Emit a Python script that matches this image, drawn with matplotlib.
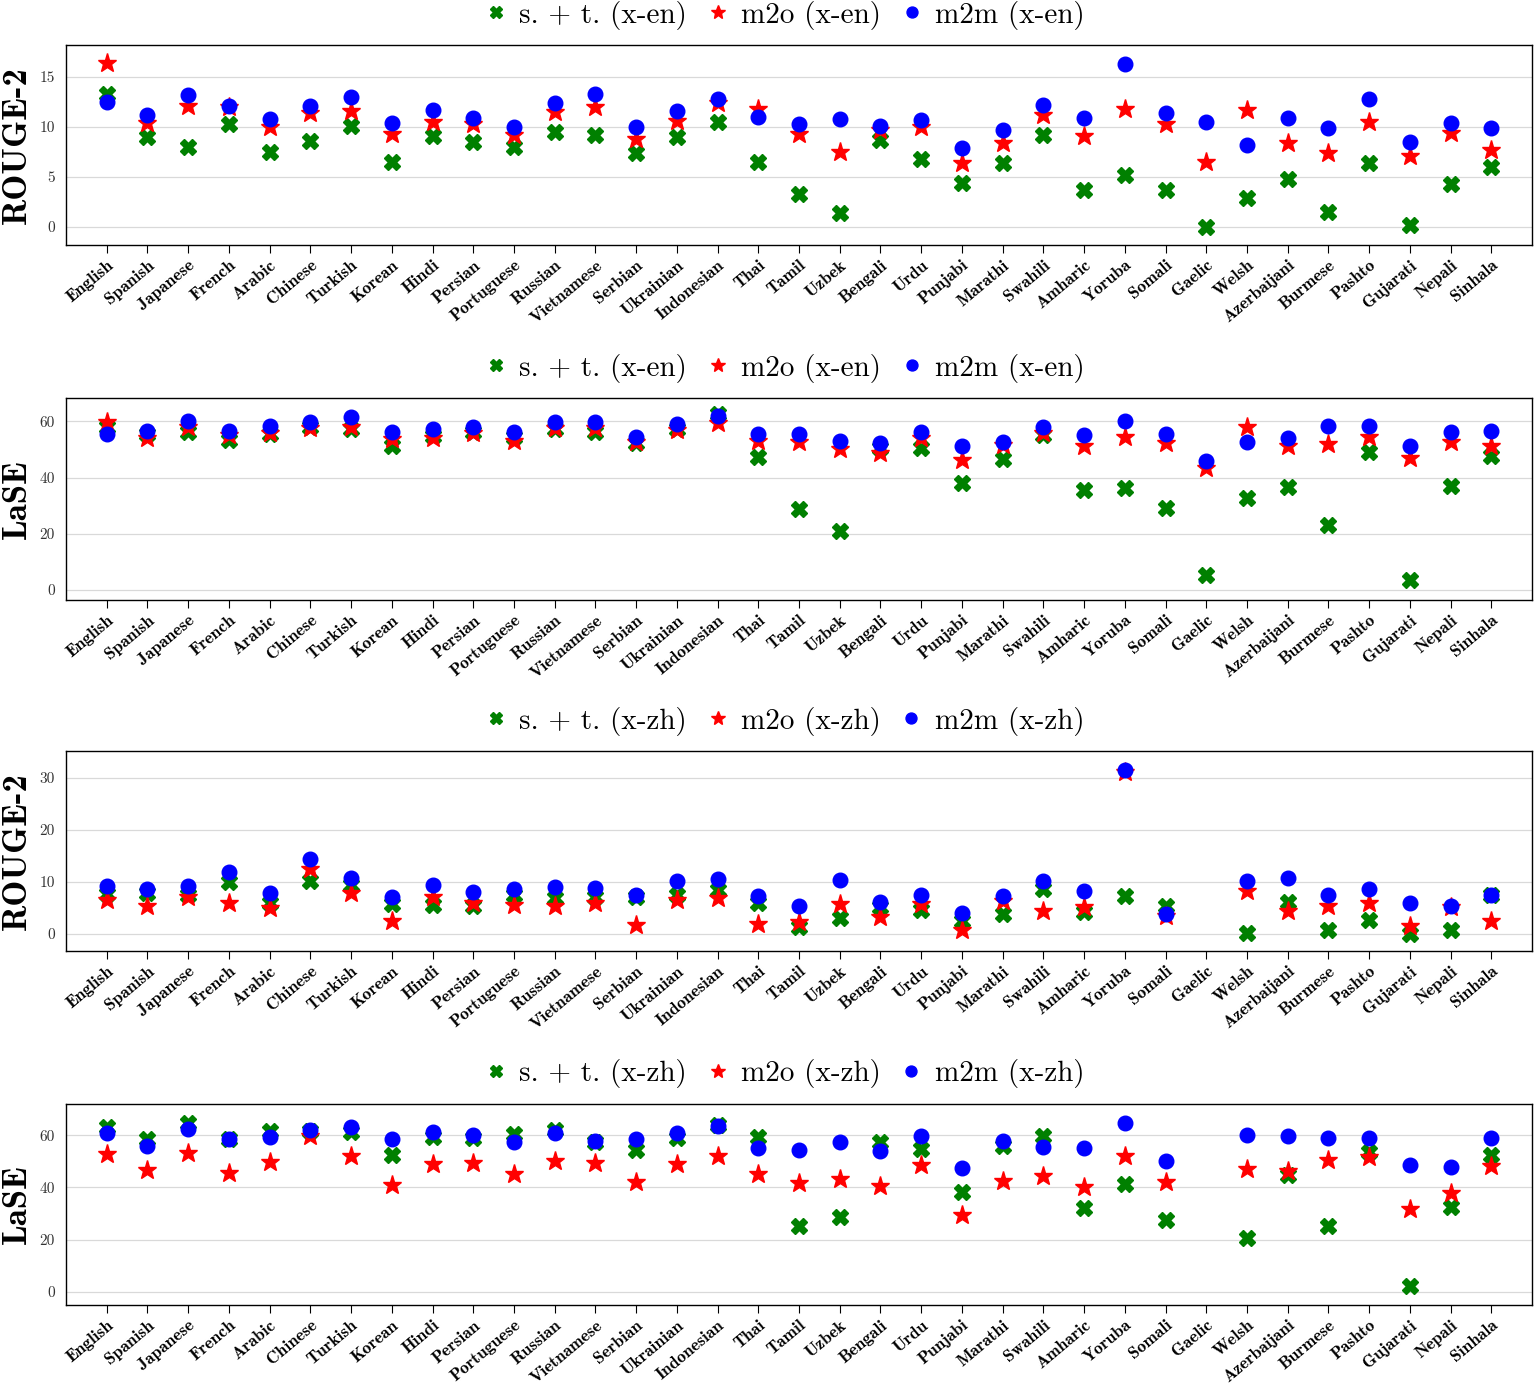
import numpy as np
import matplotlib
matplotlib.use("Agg")
import matplotlib.pyplot as plt

langs = ["English", "Spanish", "Japanese", "French", "Arabic", "Chinese", "Turkish",
         "Korean", "Hindi", "Persian", "Portuguese", "Russian", "Vietnamese", "Serbian",
         "Ukrainian", "Indonesian", "Thai", "Tamil", "Uzbek", "Bengali", "Urdu", "Punjabi",
         "Marathi", "Swahili", "Amharic", "Yoruba", "Somali", "Gaelic", "Welsh",
         "Azerbaijani", "Burmese", "Pashto", "Gujarati", "Nepali", "Sinhala"]

nan = np.nan

# ROUGE-2, x-en
r_en_st  = [13.3, 9.0, 8.0, 10.3, 7.5, 8.6, 10.1, 6.5, 9.1, 8.5, 8.0, 9.5, 9.2, 7.4, 9.0, 10.5, 6.5,
            3.3, 1.4, 8.7, 6.8, 4.4, 6.4, 9.2, 3.7, 5.2, 3.7, 0.0, 2.9, 4.8, 1.5, 6.4, 0.2, 4.3, 6.0]
r_en_m2o = [16.4, 10.4, 12.1, 12.0, 10.0, 11.4, 11.6, 9.3, 10.5, 10.3, 9.2, 11.5, 12.0, 8.8, 10.6, 12.4, 11.8,
            9.3, 7.5, 9.7, 10.0, 6.4, 8.4, 11.2, 9.1, 11.8, 10.3, 6.5, 11.7, 8.4, 7.4, 10.5, 7.1, 9.4, 7.7]
r_en_m2m = [12.5, 11.2, 13.2, 12.1, 10.8, 12.1, 13.0, 10.4, 11.7, 10.9, 10.0, 12.4, 13.3, 10.0, 11.6, 12.8, 11.0,
            10.3, 10.8, 10.1, 10.7, 7.9, 9.7, 12.2, 10.9, 16.3, 11.4, 10.5, 8.2, 10.9, 9.9, 12.8, 8.5, 10.4, 9.9]

# LaSE, x-en
l_en_st  = [58.1, 55.5, 56.3, 53.4, 55.4, 58.1, 57.2, 51.3, 54.8, 56.1, 54.5, 57.2, 56.3, 52.4, 57.2, 62.5, 47.4,
            28.8, 21.0, 50.4, 50.4, 37.9, 46.5, 55.1, 35.6, 36.4, 29.1, 5.3, 32.8, 36.5, 23.1, 49.2, 3.6, 36.8, 47.7]
l_en_m2o = [59.9, 54.0, 57.9, 55.1, 55.7, 57.5, 57.9, 53.6, 54.0, 55.7, 53.1, 57.5, 57.7, 52.8, 56.9, 59.5, 53.0,
            52.8, 50.0, 48.6, 54.0, 46.2, 51.6, 56.0, 51.2, 54.5, 52.4, 43.3, 57.9, 51.2, 51.8, 54.5, 47.1, 52.8, 51.2]
l_en_m2m = [55.5, 56.7, 60.2, 56.7, 58.3, 59.9, 61.4, 56.3, 57.3, 57.9, 56.3, 59.6, 59.6, 54.5, 58.9, 61.9, 55.5,
            55.4, 53.0, 52.4, 56.1, 51.2, 52.8, 58.1, 55.1, 60.2, 55.5, 46.0, 52.8, 54.2, 58.3, 58.3, 51.3, 56.3, 56.6]

# ROUGE-2, x-zh
r_zh_st  = [7.6, 7.9, 7.5, 9.9, 5.9, 10.1, 9.4, 5.8, 5.6, 5.3, 7.5, 6.8, 7.0, 7.1, 7.5, 8.5, 5.9,
            1.4, 3.1, 5.1, 4.6, 2.4, 3.8, 8.6, 4.2, 7.3, 5.4, nan, 0.1, 6.2, 0.8, 2.6, 0.0, 0.8, 7.5]
r_zh_m2o = [6.4, 5.3, 7.1, 5.9, 4.9, 12.4, 7.8, 2.5, 7.1, 6.0, 5.6, 5.3, 6.0, 1.7, 6.5, 6.9, 1.9,
            2.2, 5.7, 3.3, 5.8, 0.8, 6.3, 4.3, 5.1, 31.1, 3.5, nan, 8.3, 4.4, 5.3, 5.9, 1.5, 5.1, 2.5]
r_zh_m2m = [9.1, 8.6, 9.1, 11.9, 7.8, 14.4, 10.8, 7.1, 9.4, 8.1, 8.6, 8.9, 8.8, 7.5, 10.1, 10.5, 7.3,
            5.3, 10.3, 6.1, 7.5, 4.0, 7.3, 10.1, 8.3, 31.5, 3.8, nan, 10.2, 10.8, 7.5, 8.6, 6.0, 5.4, 7.5]

# LaSE, x-zh
l_zh_st  = [63.3, 58.6, 64.9, 58.5, 61.8, 61.8, 61.4, 52.5, 59.2, 58.8, 60.4, 62.0, 57.3, 54.4, 58.8, 64.0, 59.2,
            25.3, 28.8, 57.6, 54.6, 38.1, 56.0, 59.9, 32.2, 41.2, 27.5, nan, 20.5, 44.8, 25.3, 53.7, 2.2, 32.4, 52.5]
l_zh_m2o = [52.8, 46.7, 53.1, 45.7, 49.6, 59.7, 52.1, 40.9, 49.0, 49.5, 45.2, 50.3, 49.3, 42.2, 49.0, 52.1, 45.2,
            41.6, 43.1, 40.7, 48.6, 29.4, 42.5, 44.4, 40.3, 52.1, 42.2, nan, 46.9, 46.3, 50.5, 51.6, 31.7, 37.7, 48.2]
l_zh_m2m = [61.0, 56.0, 62.3, 58.6, 59.5, 62.0, 63.1, 58.5, 61.1, 60.1, 57.6, 60.8, 57.9, 58.5, 60.8, 63.7, 55.0,
            54.4, 57.3, 54.1, 59.9, 47.3, 57.9, 55.6, 55.0, 64.9, 50.1, nan, 60.1, 59.7, 58.8, 59.1, 48.6, 48.0, 58.8]

panels = [
    ("ROUGE-2", "x-en", r_en_st, r_en_m2o, r_en_m2m, (-1.8, 18.2), [0, 5, 10, 15]),
    ("LaSE", "x-en", l_en_st, l_en_m2o, l_en_m2m, (-3.6, 68.3), [0, 20, 40, 60]),
    ("ROUGE-2", "x-zh", r_zh_st, r_zh_m2o, r_zh_m2m, (-3.3, 35.1), [0, 10, 20, 30]),
    ("LaSE", "x-zh", l_zh_st, l_zh_m2o, l_zh_m2m, (-5.1, 72.0), [0, 20, 40, 60]),
]

# axes boxes in pixels (top, bottom)
W, H = 1537, 1387
boxes = [(45, 245), (398, 600), (751, 951), (1104, 1305)]
left_px, right_px = 66, 1532

fig = plt.figure(figsize=(W / 100, H / 100), dpi=100)
x = np.arange(len(langs))

for (ylab, tag, st, m2o, m2m, ylim, yt), (top, bot) in zip(panels, boxes):
    ax = fig.add_axes([left_px / W, 1 - bot / H, (right_px - left_px) / W, (bot - top) / H])
    ax.plot(x, st, ls="none", marker="X", color="green", ms=11, mec="green",
            label="s. + t. (%s)" % tag)
    ax.plot(x, m2o, ls="none", marker="*", color="red", ms=14, mec="red",
            label="m2o (%s)" % tag)
    ax.plot(x, m2m, ls="none", marker="o", color="blue", ms=10.5, mec="blue",
            label="m2m (%s)" % tag)
    ax.set_xlim(-1, 35)
    ax.set_ylim(*ylim)
    ax.set_yticks(yt)
    ax.set_yticklabels([str(v) for v in yt], family="cmr10", fontsize=11, color="#333333")
    ax.set_xticks(x)
    ax.set_xticklabels(langs, rotation=40, ha="right", rotation_mode="anchor",
                       family="cmb10", fontsize=12.5)
    ax.tick_params(axis="y", length=0, pad=8)
    ax.tick_params(axis="x", length=6, direction="out", pad=3)
    ax.grid(axis="y", color="#d9d9d9", lw=0.9)
    ax.set_axisbelow(True)
    for s in ax.spines.values():
        s.set_linewidth(1.0)
    ax.set_ylabel(ylab, family="cmb10", fontsize=25, va="center")
    ax.yaxis.set_label_coords(-0.033, 0.5)
    ax.legend(loc="center", bbox_to_anchor=(0.49, 1.0 + 30 / (bot - top)), ncol=3,
              frameon=False, prop={"family": "cmr10", "size": 21},
              markerscale=0.75, handletextpad=0.4, columnspacing=0.65, handlelength=0.8)

fig.savefig("out.png", dpi=100)
